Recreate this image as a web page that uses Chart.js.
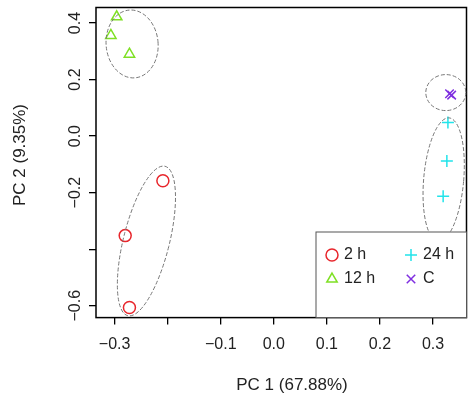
<!DOCTYPE html>
<html><head><script src="https://cdn.jsdelivr.net/npm/chart.js@4"></script>
<style>body{margin:0;background:#fff}#w{width:474px;height:401px}</style></head>
<body><div id="w"><canvas id="c"></canvas></div>
<script>
const seriesNames=["2 h","12 h","24 h","C"];
const pts2h=[[-0.209,-0.158],[-0.280,-0.352],[-0.272,-0.606]];
const pts12h=[[-0.296,0.422],[-0.307,0.356],[-0.272,0.290]];
const pts24h=[[0.328,0.048],[0.326,-0.088],[0.319,-0.213]];
const ptsC=[[0.331,0.150],[0.335,0.145]];
const xTicks=[-0.3,-0.2,-0.1,0.0,0.1,0.2,0.3];
const xTickLabels=["−0.3","","−0.1","0.0","0.1","0.2","0.3"];
const yTicks=[0.4,0.2,0.0,-0.2,-0.4,-0.6];
const yTickLabels=["0.4","0.2","0.0","−0.2","","−0.6"];
const ellipses=[[-0.267,0.326,26,34,-5],[0.324,0.154,20,18,0],[0.320,-0.154,20,62,5],[-0.240,-0.371,23,77,14]];
const colors=["#e8262c","#7fe024","#22e4ea","#7f2fe0"];
const styles=["circle","triangle","cross","crossRot"];
const mk=(a)=>a.map(p=>({x:p[0],y:p[1]}));
const data=[pts2h,pts12h,pts24h,ptsC];
const font="'Liberation Sans', Arial, sans-serif";
const plug={id:'p',afterDraw(ch){
 const c=ch.ctx,a=ch.chartArea,xs=ch.scales.x,ys=ch.scales.y;
 c.save();c.strokeStyle='#000';c.lineWidth=1.5;c.strokeRect(a.left,a.top,a.right-a.left,a.bottom-a.top);
 c.setLineDash([4,2]);c.strokeStyle='#777';c.lineWidth=1;
 ellipses.forEach(e=>{c.beginPath();c.ellipse(xs.getPixelForValue(e[0]),ys.getPixelForValue(e[1]),e[2],e[3],e[4]*Math.PI/180,0,2*Math.PI);c.stroke();});
 c.setLineDash([]);
 c.fillStyle='#222';c.font='16px '+font;c.textAlign='center';c.textBaseline='bottom';
 yTicks.forEach((v,i)=>{const y=ys.getPixelForValue(v);c.save();c.translate(a.left-12,y);c.rotate(-Math.PI/2);c.fillText(yTickLabels[i],0,0);c.restore();});
 c.font='17px '+font;
 c.save();c.translate(20,155);c.rotate(-Math.PI/2);c.textBaseline='middle';c.fillText('PC 2 (9.35%)',0,0);c.restore();
 c.textBaseline='middle';c.fillText('PC 1 (67.88%)',292,385);
 const lx=316,ly=232,lw=a.right-lx,lh=a.bottom-ly;
 c.fillStyle='#fff';c.fillRect(lx,ly,lw,lh);c.strokeStyle='#555';c.lineWidth=1;c.strokeRect(lx,ly,lw,lh);
 const pos=[[332,255],[332,279],[411,255],[411,279]];
 c.font='16px '+font;c.textAlign='left';
 for(let i=0;i<4;i++){c.strokeStyle=colors[i];c.fillStyle='rgba(0,0,0,0)';c.lineWidth=1.5;
  Chart.helpers.drawPoint(c,{pointStyle:styles[i],radius:6,borderWidth:1.5},pos[i][0],pos[i][1]);
  c.fillStyle='#222';c.fillText(seriesNames[i],pos[i][0]+12,pos[i][1]);}
 c.restore();}};
new Chart(document.getElementById('c'),{type:'scatter',
 data:{datasets:data.map((d,i)=>({label:seriesNames[i],data:mk(d),pointStyle:styles[i],radius:6,borderColor:colors[i],backgroundColor:'transparent',borderWidth:1.5,pointHoverRadius:6}))},
 options:{responsive:true,maintainAspectRatio:false,animation:false,events:[],
  layout:{padding:{left:89,top:-6,right:-6,bottom:0}},
  plugins:{legend:{display:false},tooltip:{enabled:false}},
  scales:{
   x:{type:'linear',min:-0.335,max:0.363,afterBuildTicks:s=>{s.ticks=xTicks.map(v=>({value:v}));},
      border:{display:false},grid:{drawOnChartArea:false,tickLength:7,color:'#000',lineWidth:1.3},
      ticks:{color:'#222',font:{size:16,family:font},padding:10,maxRotation:0,autoSkip:false,callback:(v,i)=>xTickLabels[i]},
      title:{display:true,text:' ',font:{size:16},padding:{top:14,bottom:4}}},
   y:{type:'linear',min:-0.642,max:0.455,afterBuildTicks:s=>{s.ticks=yTicks.map(v=>({value:v}));},
      border:{display:false},grid:{drawOnChartArea:false,tickLength:7,color:'#000',lineWidth:1.3},
      ticks:{display:false}}}},
 plugins:[plug]});
</script></body></html>
